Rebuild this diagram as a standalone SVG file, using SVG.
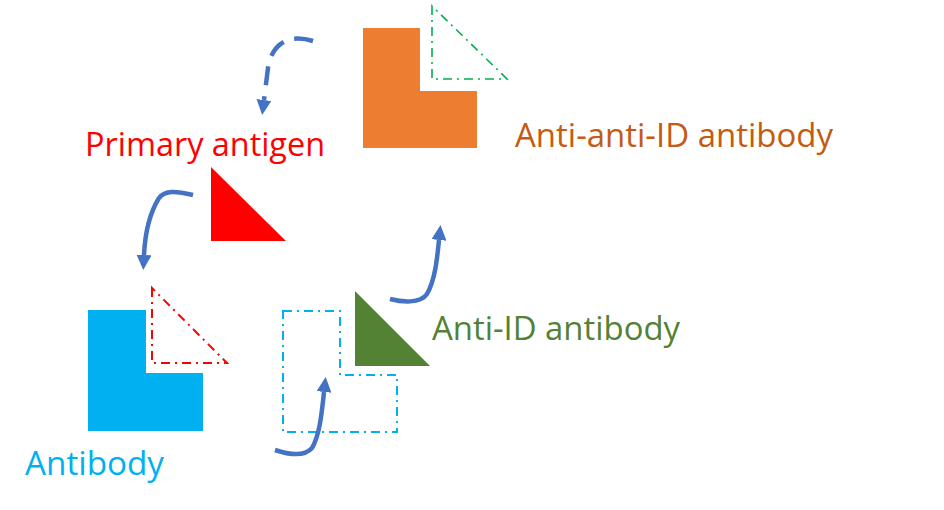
<svg xmlns="http://www.w3.org/2000/svg" width="944" height="510" viewBox="0 0 944 510">
<defs>
<style>
.lbl{font-family:"Open Sans","Liberation Sans",sans-serif;font-size:32px}
.arr{fill:none;stroke:#4472C4;stroke-width:4.5;marker-end:url(#ah)}
.dd{fill:none;stroke-width:2;stroke-dasharray:9 5 2 5}
</style>
<marker id="ah" viewBox="0 0 10 10" refX="0" refY="5" markerUnits="userSpaceOnUse" markerWidth="15" markerHeight="15" orient="auto">
<path d="M0,0 L10,5 L0,10 Z" fill="#4472C4"/>
</marker>
</defs>
<rect width="944" height="510" fill="#ffffff"/>
<g id="primary-antigen">
<path d="M211,167 L211,241 L286,241 Z" fill="#FF0000"/>
<text class="lbl" x="85" y="156" fill="#FF0000" textLength="240" lengthAdjust="spacingAndGlyphs">Primary antigen</text>
</g>
<g id="anti-anti-id-antibody">
<path d="M363,28 H420 V91 H477 V148 H363 Z" fill="#ED7D31"/>
<path d="M432,6 L432,79 L507,79 Z" class="dd" stroke="#00B050" style="stroke-width:1.6"/>
<text class="lbl" x="515" y="147" fill="#C55A11" textLength="318" lengthAdjust="spacingAndGlyphs">Anti-anti-ID antibody</text>
</g>
<g id="antibody">
<path d="M88,310 H146 V373 H203 V431 H88 Z" fill="#00B0F0"/>
<path d="M152,288 L152,363 L227,363 Z" class="dd" stroke="#FF0000"/>
<text class="lbl" x="25" y="475" fill="#00B0F0" textLength="139" lengthAdjust="spacingAndGlyphs">Antibody</text>
</g>
<g id="anti-id-antibody">
<path d="M283,311 H340 V375 H397 V432 H283 Z" class="dd" stroke="#00B0F0"/>
<path d="M355,291 L355,366 L430,366 Z" fill="#548235"/>
<text class="lbl" x="432" y="340" fill="#538135" textLength="248" lengthAdjust="spacingAndGlyphs">Anti-ID antibody</text>
</g>
<g id="connectors">
<path class="arr" d="M313,41 C290,34 272,42 268,68 L264,100" style="stroke-dasharray:19 11"/>
<path class="arr" d="M193,195 C176,191 165,190 159,198 C149,214 145,235 144,255"/>
<path class="arr" d="M275,450 C290,455 305,456 312,448 C320,435 322,410 324,392"/>
<path class="arr" d="M390,299 C402,302 420,304 427,294 C435,280 437,260 439,240"/>
</g>
</svg>
